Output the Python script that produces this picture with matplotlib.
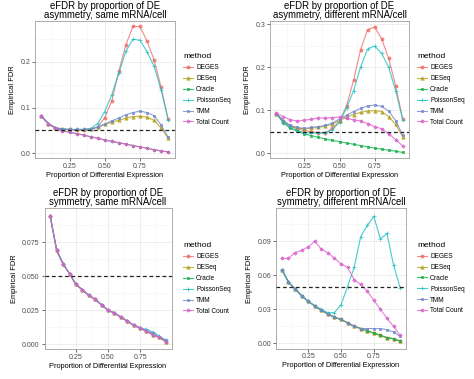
import numpy as np
import matplotlib
matplotlib.use("Agg")
import matplotlib.pyplot as plt
from matplotlib.lines import Line2D

plt.rcParams['font.family'] = ['Liberation Sans', 'DejaVu Sans']

x = [0.05, 0.10, 0.15, 0.20, 0.25, 0.30, 0.35, 0.40, 0.45, 0.50,
     0.55, 0.60, 0.65, 0.70, 0.75, 0.80, 0.85, 0.90, 0.95]
methods = ["DEGES", "DESeq", "Oracle", "PoissonSeq", "TMM", "Total Count"]
colors = ["#EE6F68", "#B3A01A", "#14B24A", "#1CBFC2", "#7388CC", "#DB62CC"]

titles = ["eFDR by proportion of DE\nasymmetry, same mRNA/cell",
          "eFDR by proportion of DE\nasymmetry, different mRNA/cell",
          "eFDR by proportion of DE\nsymmetry, same mRNA/cell",
          "eFDR by proportion of DE\nsymmetry, different mRNA/cell"]

# Panel 1: asymmetry, same mRNA/cell
p1_DEGES = [0.081, 0.065, 0.056, 0.053, 0.052, 0.051, 0.051, 0.052, 0.058, 0.078,
            0.114, 0.180, 0.237, 0.277, 0.277, 0.245, 0.204, 0.144, 0.074]
p1_DESeq = [0.081, 0.065, 0.055, 0.053, 0.052, 0.052, 0.052, 0.053, 0.057, 0.063,
            0.068, 0.072, 0.077, 0.080, 0.081, 0.079, 0.072, 0.055, 0.033]
p1_Oracle = [0.081, 0.064, 0.055, 0.049, 0.046, 0.043, 0.040, 0.036, 0.033, 0.029,
             0.026, 0.023, 0.020, 0.017, 0.014, 0.011, 0.008, 0.005, 0.003]
p1_Poisson = [0.081, 0.065, 0.056, 0.053, 0.052, 0.052, 0.052, 0.054, 0.065, 0.091,
              0.128, 0.175, 0.223, 0.249, 0.247, 0.222, 0.190, 0.138, 0.073]
p1_TMM = [0.081, 0.065, 0.055, 0.053, 0.052, 0.052, 0.052, 0.053, 0.057, 0.064,
          0.071, 0.077, 0.084, 0.089, 0.092, 0.089, 0.082, 0.062, 0.035]
p1_Total = [0.081, 0.064, 0.055, 0.049, 0.046, 0.043, 0.040, 0.036, 0.033, 0.029,
            0.026, 0.023, 0.020, 0.017, 0.014, 0.011, 0.008, 0.005, 0.003]

# Panel 2: asymmetry, different mRNA/cell
p2_DEGES = [0.092, 0.075, 0.063, 0.056, 0.053, 0.050, 0.048, 0.048, 0.058, 0.075,
            0.110, 0.169, 0.240, 0.287, 0.293, 0.266, 0.220, 0.157, 0.080]
p2_DESeq = [0.092, 0.075, 0.064, 0.058, 0.057, 0.058, 0.060, 0.063, 0.068, 0.076,
            0.084, 0.090, 0.095, 0.098, 0.099, 0.097, 0.085, 0.067, 0.038]
p2_Oracle = [0.092, 0.071, 0.058, 0.051, 0.045, 0.041, 0.037, 0.033, 0.030, 0.027,
             0.024, 0.021, 0.018, 0.015, 0.012, 0.010, 0.007, 0.005, 0.002]
p2_Poisson = [0.092, 0.072, 0.060, 0.052, 0.048, 0.047, 0.047, 0.047, 0.055, 0.072,
              0.105, 0.145, 0.200, 0.242, 0.249, 0.232, 0.200, 0.145, 0.078]
p2_TMM = [0.092, 0.075, 0.065, 0.060, 0.058, 0.060, 0.062, 0.065, 0.070, 0.080,
          0.088, 0.097, 0.104, 0.110, 0.112, 0.109, 0.098, 0.076, 0.042]
p2_Total = [0.093, 0.085, 0.078, 0.075, 0.077, 0.079, 0.082, 0.082, 0.083, 0.084,
            0.081, 0.078, 0.075, 0.069, 0.062, 0.057, 0.045, 0.032, 0.017]

# Panel 3: symmetry, same mRNA/cell
p3_DEGES = [0.094, 0.069, 0.059, 0.052, 0.044, 0.040, 0.036, 0.033, 0.029, 0.025,
            0.023, 0.020, 0.017, 0.014, 0.012, 0.0095, 0.007, 0.005, 0.002]
p3_DESeq = [0.094, 0.069, 0.059, 0.052, 0.044, 0.040, 0.036, 0.033, 0.029, 0.025,
            0.023, 0.020, 0.017, 0.014, 0.012, 0.0095, 0.007, 0.005, 0.002]
p3_Oracle = [0.094, 0.069, 0.059, 0.052, 0.044, 0.040, 0.036, 0.033, 0.029, 0.025,
             0.023, 0.020, 0.017, 0.014, 0.012, 0.0095, 0.007, 0.005, 0.002]
p3_Poisson = [0.094, 0.069, 0.059, 0.052, 0.044, 0.040, 0.036, 0.033, 0.029, 0.025,
              0.023, 0.020, 0.017, 0.014, 0.012, 0.011, 0.009, 0.006, 0.003]
p3_TMM = [0.094, 0.069, 0.059, 0.052, 0.044, 0.040, 0.036, 0.033, 0.029, 0.025,
          0.023, 0.020, 0.017, 0.014, 0.012, 0.010, 0.008, 0.005, 0.003]
p3_Total = [0.094, 0.069, 0.059, 0.052, 0.044, 0.040, 0.036, 0.033, 0.029, 0.025,
            0.023, 0.020, 0.017, 0.014, 0.012, 0.0095, 0.007, 0.005, 0.002]

# Panel 4: symmetry, different mRNA/cell
p4_DEGES = [0.065, 0.054, 0.048, 0.042, 0.037, 0.033, 0.029, 0.026, 0.023, 0.021,
            0.018, 0.015, 0.013, 0.011, 0.009, 0.007, 0.005, 0.004, 0.002]
p4_DESeq = [0.065, 0.054, 0.048, 0.042, 0.037, 0.033, 0.029, 0.026, 0.023, 0.021,
            0.018, 0.015, 0.013, 0.011, 0.009, 0.007, 0.005, 0.004, 0.002]
p4_Oracle = [0.065, 0.054, 0.048, 0.042, 0.037, 0.033, 0.029, 0.026, 0.023, 0.021,
             0.018, 0.015, 0.013, 0.011, 0.009, 0.007, 0.005, 0.004, 0.002]
p4_Poisson = [0.065, 0.054, 0.048, 0.042, 0.037, 0.033, 0.030, 0.027, 0.027, 0.034,
              0.050, 0.067, 0.094, 0.104, 0.112, 0.092, 0.097, 0.069, 0.049]
p4_TMM = [0.065, 0.054, 0.048, 0.042, 0.037, 0.033, 0.029, 0.026, 0.023, 0.021,
          0.018, 0.015, 0.013, 0.013, 0.013, 0.013, 0.012, 0.010, 0.006]
p4_Total = [0.075, 0.075, 0.080, 0.082, 0.085, 0.090, 0.083, 0.080, 0.075, 0.070,
            0.067, 0.056, 0.052, 0.046, 0.038, 0.030, 0.022, 0.015, 0.007]

panels = [
    [p1_DEGES, p1_DESeq, p1_Oracle, p1_Poisson, p1_TMM, p1_Total],
    [p2_DEGES, p2_DESeq, p2_Oracle, p2_Poisson, p2_TMM, p2_Total],
    [p3_DEGES, p3_DESeq, p3_Oracle, p3_Poisson, p3_TMM, p3_Total],
    [p4_DEGES, p4_DESeq, p4_Oracle, p4_Poisson, p4_TMM, p4_Total],
]
yticks = [[0.0, 0.1, 0.2], [0.0, 0.1, 0.2, 0.3],
          [0.0, 0.025, 0.05, 0.075], [0.0, 0.03, 0.06, 0.09]]
yticklabels = [["0.0", "0.1", "0.2"], ["0.0", "0.1", "0.2", "0.3"],
               ["0.000", "0.025", "0.050", "0.075"], ["0.00", "0.03", "0.06", "0.09"]]
ylims = [(-0.0103, 0.289), (-0.0109, 0.307), (-0.0035, 0.1002), (-0.0046, 0.1194)]
xticks = [0.25, 0.50, 0.75]
xticklabels = ["0.25", "0.50", "0.75"]
threshold = 0.05

W, H = 474, 379
# axes boxes in pixels: left, right, top, bottom
boxes = [(35, 174.5, 21, 158), (270, 409, 21, 158),
         (44.5, 171.5, 208, 349), (276, 406, 208, 348.5)]
legend_x = [183, 417, 183, 417]
markers = ['o', '^', 's', '+', 's', (8, 2, 0)]
msizes = [2.2, 2.4, 2.0, 2.6, 2.0, 2.6]


def style(m):
    return dict(color=colors[m], lw=0.8, marker=markers[m], ms=msizes[m],
                mew=0.6, alpha=0.8)


fig = plt.figure(figsize=(W / 100, H / 100), dpi=100)
for i, (l, r, t, b) in enumerate(boxes):
    ax = fig.add_axes([l / W, 1 - b / H, (r - l) / W, (b - t) / H])
    ax.set_facecolor('white')
    for m in range(len(methods)):
        ax.plot(x, panels[i][m], **style(m))
    ax.axhline(threshold, color='#222222', lw=0.9, ls=(0, (3, 2.2)), zorder=5)
    ax.set_xlim(0.005, 0.995)
    ax.set_ylim(*ylims[i])
    ax.set_xticks(xticks)
    ax.set_xticklabels(xticklabels)
    ax.set_yticks(yticks[i])
    ax.set_yticklabels(yticklabels[i])
    yt = yticks[i]
    step = yt[1] - yt[0]
    ax.set_xticks([0.125, 0.375, 0.625, 0.875], minor=True)
    ax.set_yticks([v + step / 2 for v in yt if v + step / 2 < ylims[i][1]], minor=True)
    ax.grid(True, which='major', color='#EBEBEB', lw=0.6)
    ax.grid(True, which='minor', color='#F4F4F4', lw=0.4)
    ax.set_axisbelow(True)
    ax.tick_params(which='major', length=2, width=0.5, color='#333333',
                   labelsize=5.0, labelcolor='#4D4D4D', pad=1.5)
    ax.tick_params(which='minor', length=0)
    for s in ax.spines.values():
        s.set_color('#A0A0A0')
        s.set_linewidth(0.6)
    ax.set_xlabel("Proportion of Differential Expression", fontsize=5.3, labelpad=1.5)
    ax.set_ylabel("Empirical FDR", fontsize=5.4, labelpad=3)
    ax.set_title(titles[i], fontsize=6.9, pad=2, linespacing=0.85)
    handles = [Line2D([], [], **style(m)) for m in range(len(methods))]
    leg = ax.legend(handles, methods, title='method', loc='center left',
                    bbox_to_anchor=(legend_x[i] / W, 1 - (t + b) / 2 / H),
                    bbox_transform=fig.transFigure, frameon=False,
                    fontsize=4.7, title_fontsize=6.0, handlelength=1.6,
                    handletextpad=0.4, labelspacing=0.6, borderaxespad=0,
                    borderpad=0)
    leg._legend_box.align = "left"

fig.savefig("out.png", dpi=100)
